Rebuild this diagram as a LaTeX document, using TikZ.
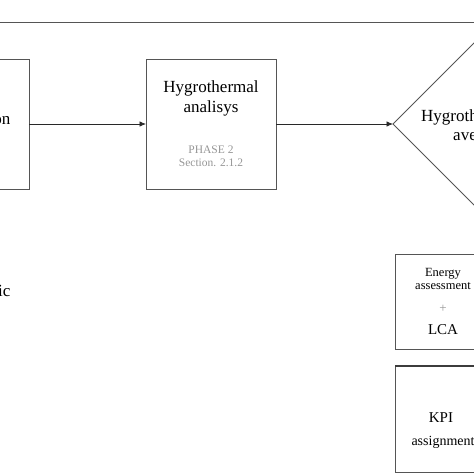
\documentclass[tikz,border=0pt]{standalone}
\usepackage{fontspec}
\setmainfont{Liberation Serif}
\usetikzlibrary{arrows.meta,shapes.geometric}

\begin{document}
\begin{tikzpicture}[x=1pt,y=-1pt,
    line/.style={color={rgb,255:red,85; green,85; blue,85},line width=0.9pt},
    box/.style={line,draw,inner sep=0pt,outer sep=0pt},
    flow/.style={color={rgb,255:red,40; green,40; blue,40},line width=0.8pt,-{Latex[length=6.5pt,width=5.5pt]}},
    big/.style={anchor=base,inner sep=0pt,font=\fontsize{17}{20}\selectfont},
    mid/.style={anchor=base,inner sep=0pt,font=\fontsize{12.5}{12}\selectfont},
    grey/.style={anchor=base,inner sep=0pt,text={rgb,255:red,150; green,150; blue,150},font=\fontsize{11.5}{13}\selectfont}]
    \useasboundingbox (0,0) rectangle (474,474);
    \clip (0,0) rectangle (474,474);

    \draw[line] (0,22) -- (474,22);

    % phase 1
    \node[box,minimum width=130pt,minimum height=130pt] (design) at (-36,124) {};
    \node[big,anchor=base east] at (10.5,124) {definition};

    % phase 2
    \node[box,minimum width=130pt,minimum height=130pt] (hyg) at (211,124) {};
    \node[big] at (211,92) {Hygrothermal};
    \node[big] at (211,112) {analisys};
    \node[grey] at (211,153) {PHASE 2};
    \node[grey] at (211,166) {Section. 2.1.2};

    % check
    \node[diamond,line,draw,minimum width=220pt,minimum height=220pt,inner sep=0pt,outer sep=0pt] (avg) at (503,124) {};
    \node[big,anchor=base west] at (421,121.5) {Hygrothermal};
    \node[big,anchor=base west] at (453,140.5) {average};

    \draw[flow] (design.east) -- (hyg.west);
    \draw[flow] (hyg.east) -- (avg.west);

    \node[big,anchor=base east] at (10.5,296) {Parametric};

    % phase 3
    \node[box,minimum width=96pt,minimum height=95pt] (energy) at (443,301.5) {};
    \node[mid] at (443,276.5) {Energy};
    \node[mid] at (443,289) {assessment};
    \node[grey,font=\fontsize{13}{13}\selectfont] at (443,312) {+};
    \node[mid,font=\fontsize{15}{15}\selectfont] at (443,334) {LCA};

    \node[box,minimum width=96pt,minimum height=106pt] (kpi) at (443,419) {};
    \draw[line width=1.6pt,color={rgb,255:red,60; green,60; blue,60}] (kpi.north west) -- (kpi.north east);
    \node[mid,font=\fontsize{15}{15}\selectfont] at (441,422) {KPI};
    \node[mid,font=\fontsize{14}{14}\selectfont] at (443,445) {assignment};
\end{tikzpicture}
\end{document}
